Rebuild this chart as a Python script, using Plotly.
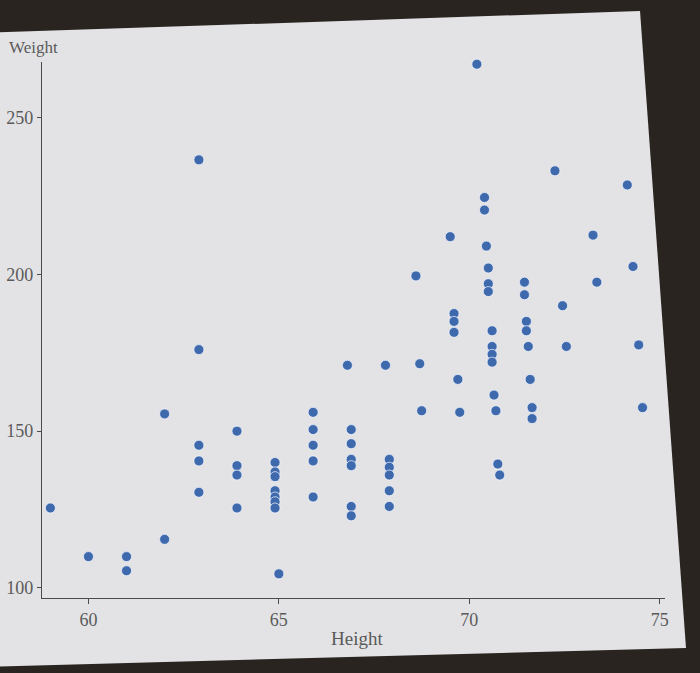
import plotly.graph_objects as go

# Data (Height in inches, Weight in pounds)
heights = [
    59.0, 60.0, 61.0, 61.0, 62.0, 62.0,
    62.9, 62.9, 62.9, 62.9, 62.9,
    63.9, 63.9, 63.9, 63.9,
    64.9, 64.9, 64.9, 64.9, 64.9, 64.9, 64.9, 65.0,
    65.9, 65.9, 65.9, 65.9, 65.9,
    66.8, 66.9, 66.9, 66.9, 66.9, 66.9, 66.9,
    67.8, 67.9, 67.9, 67.9, 67.9, 67.9,
    68.6, 68.7, 68.75,
    69.5, 69.6, 69.6, 69.6, 69.7, 69.75,
    70.2, 70.4, 70.4, 70.45, 70.5, 70.5, 70.5,
    70.6, 70.6, 70.6, 70.6, 70.65, 70.7, 70.75, 70.8,
    71.45, 71.45, 71.5, 71.5, 71.55, 71.6, 71.65, 71.65,
    72.25, 72.45, 72.55,
    73.25, 73.35,
    74.15, 74.3, 74.45, 74.55,
]
weights = [
    125.5, 110, 110, 105.5, 115.5, 155.5,
    236.5, 176, 145.5, 140.5, 130.5,
    150, 139, 136, 125.5,
    140, 137, 135.5, 131, 129, 127.5, 125.5, 104.5,
    156, 150.5, 145.5, 140.5, 129,
    171, 150.5, 146, 141, 139, 126, 123,
    171, 141, 138.5, 136, 131, 126,
    199.5, 171.5, 156.5,
    212, 187.5, 185, 181.5, 166.5, 156,
    267, 224.5, 220.5, 209, 202, 197, 194.5,
    182, 177, 174.5, 172, 161.5, 156.5, 139.5, 136,
    197.5, 193.5, 185, 182, 177, 166.5, 157.5, 154,
    233, 190, 177,
    212.5, 197.5,
    228.5, 202.5, 177.5, 157.5,
]
x_ticks = [60, 65, 70, 75]
y_ticks = [100, 150, 200, 250]

W, H = 700, 673
ML, MR, MT, MB = 42, 35, 62, 75
PW, PH = W - ML - MR, H - MT - MB

def px(xp):
    return (xp - ML) / PW

def py(yp):
    return (H - MB - yp) / PH

SERIF = "Liberation Serif, Times New Roman, serif"
AXIS = "#4a4a4a"
LABEL = "#5a5a5a"

fig = go.Figure()
fig.add_trace(go.Scatter(
    x=heights, y=weights, mode="markers",
    marker=dict(size=10, color="#3e6aad",
                line=dict(color="rgba(245,248,255,0.7)", width=1)),
    hoverinfo="x+y", showlegend=False, cliponaxis=False,
))

# screen area of the photographed monitor (light) over the dark bezel
screen = [(-20, 33), (640, 11), (686, 648), (-20, 667)]
path = "M " + " L ".join(f"{px(a):.4f},{py(b):.4f}" for a, b in screen) + " Z"

fig.update_layout(
    width=W, height=H,
    margin=dict(l=ML, r=MR, t=MT, b=MB, autoexpand=False),
    paper_bgcolor="#2a2421",
    plot_bgcolor="rgba(0,0,0,0)",
    font=dict(family=SERIF, color=LABEL, size=18),
    shapes=[dict(type="path", path=path, xref="paper", yref="paper",
                 fillcolor="#e3e3e5", line=dict(width=0), layer="below")],
    xaxis=dict(range=[58.78, 75.14], tickvals=x_ticks, ticks="outside",
               ticklen=5, tickcolor=AXIS, showline=True, linecolor=AXIS,
               linewidth=1.3, showgrid=False, zeroline=False, automargin=False,
               tickfont=dict(family=SERIF, size=18, color=LABEL)),
    yaxis=dict(range=[96.8, 267.7], tickvals=y_ticks, ticks="outside",
               ticklen=4, tickcolor=AXIS, showline=True, linecolor=AXIS,
               linewidth=1.3, showgrid=False, zeroline=False, automargin=False,
               tickfont=dict(family=SERIF, size=18, color=LABEL)),
    annotations=[
        dict(text="Weight", x=px(7), y=py(48), xref="paper", yref="paper",
             xanchor="left", yanchor="middle", showarrow=False,
             font=dict(family=SERIF, size=17, color=LABEL)),
        dict(text="Height", x=px(357), y=py(638), xref="paper", yref="paper",
             xanchor="center", yanchor="middle", showarrow=False,
             font=dict(family=SERIF, size=19, color=LABEL)),
    ],
)

fig.write_html("out.html", config={"displayModeBar": False})

# remove the browser's default 8px page margin so the figure fills the window
with open("out.html", encoding="utf-8") as f:
    html = f.read()
html = html.replace("<head>", "<head><style>html,body{margin:0;padding:0;overflow:hidden;}</style>", 1)
with open("out.html", "w", encoding="utf-8") as f:
    f.write(html)
